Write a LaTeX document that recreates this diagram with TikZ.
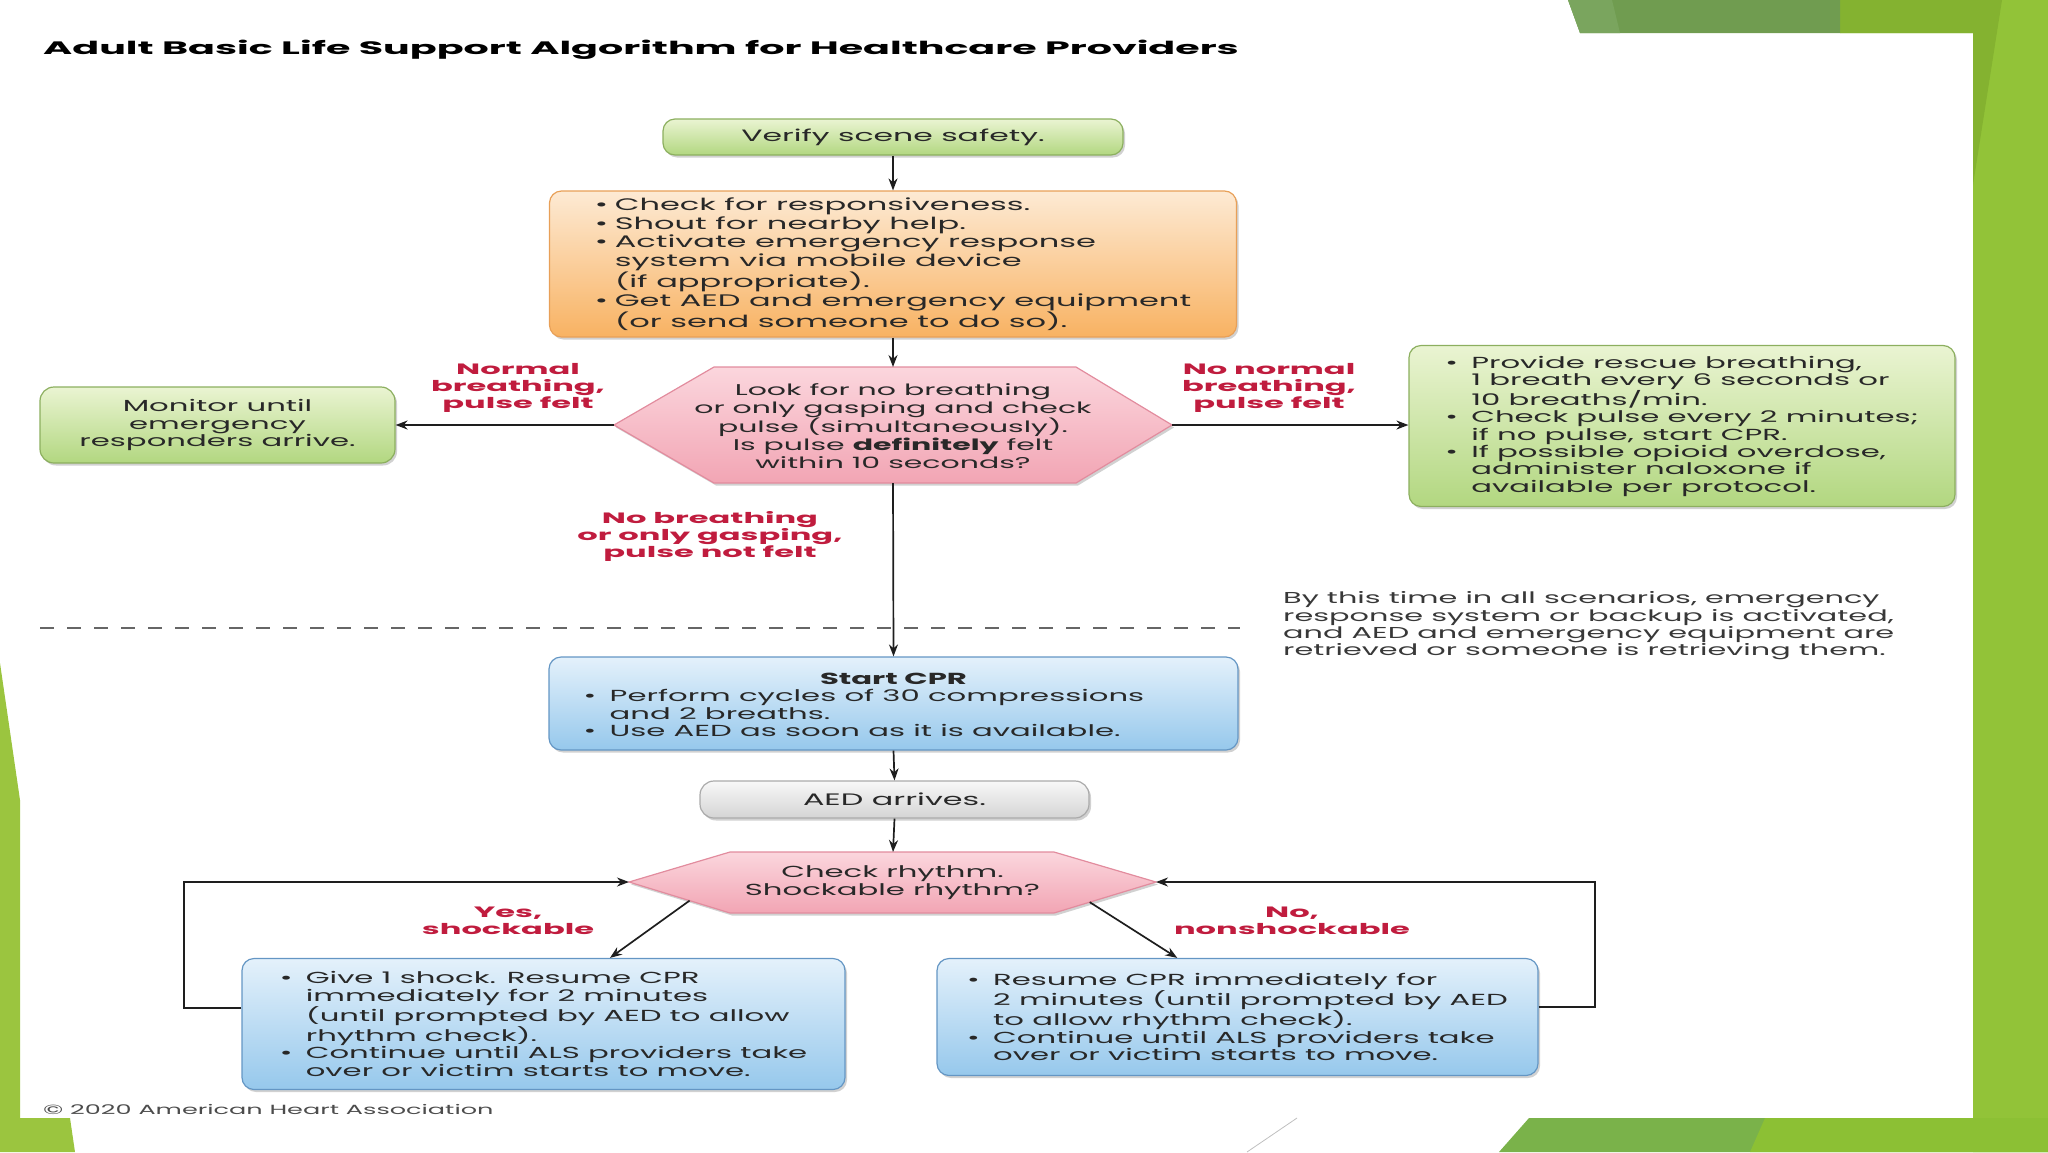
\documentclass[tikz,border=0pt]{standalone}
\usepackage{fontspec}
\setmainfont{Poppins}[FakeStretch=1.92]
\newfontfamily\titlefont{Poppins}[FakeStretch=2.2]
\newfontfamily\lblfont{Poppins}[FakeStretch=2.14]
\usetikzlibrary{arrows.meta,calc,shadows}
\definecolor{txt}{RGB}{40,40,40}
\definecolor{lblred}{RGB}{192,28,62}
\definecolor{arrc}{RGB}{30,30,30}
\definecolor{gtop}{RGB}{234,244,210}
\definecolor{gbot}{RGB}{178,215,128}
\definecolor{gbord}{RGB}{140,175,95}
\definecolor{otop}{RGB}{253,234,212}
\definecolor{obot}{RGB}{248,178,98}
\definecolor{obord}{RGB}{232,160,88}
\definecolor{ptop}{RGB}{251,214,221}
\definecolor{pbot}{RGB}{242,165,180}
\definecolor{pbord}{RGB}{226,140,158}
\definecolor{btop}{RGB}{228,241,251}
\definecolor{bbot}{RGB}{150,200,236}
\definecolor{bbord}{RGB}{100,150,196}
\definecolor{atop}{RGB}{248,248,248}
\definecolor{abot}{RGB}{212,212,212}
\definecolor{abord}{RGB}{170,170,170}
\definecolor{lgreen}{RGB}{155,197,63}
\definecolor{rgreen}{RGB}{146,195,56}
\definecolor{rgreenmd}{RGB}{132,178,48}
\definecolor{dgreen}{RGB}{112,156,80}
\definecolor{dgreenlt}{RGB}{122,165,94}
\definecolor{bgreen}{RGB}{122,178,74}
\definecolor{bgreenlt}{RGB}{140,192,52}
\newcommand{\bitem}{\makebox[26pt][l]{\textbullet}}
\newcommand{\bcont}{\hspace*{26pt}}
\newcommand{\oitem}{\makebox[20pt][l]{\textbullet}}
\newcommand{\ocont}{\hspace*{20pt}}
\tikzset{
  softshadow/.style={drop shadow={shadow xshift=2pt, shadow yshift=-2.5pt, opacity=0.18, fill=black}},
  box/.style={draw, rounded corners=12pt, line width=1.2pt, inner sep=0pt, text=txt,
    font=\fontsize{16}{17.3}\selectfont, softshadow},
  greenbox/.style={box, draw=gbord, top color=gtop, bottom color=gbot},
  orangebox/.style={box, draw=obord, top color=otop, bottom color=obot},
  bluebox/.style={box, draw=bbord, top color=btop, bottom color=bbot},
  graybox/.style={box, draw=abord, top color=atop, bottom color=abot},
  hexshape/.style={draw=pbord, line width=1.2pt, top color=ptop, bottom color=pbot, softshadow},
  hextext/.style={inner sep=0pt, text=txt, align=center, font=\fontsize{15.6}{17.6}\selectfont},
  lbl/.style={inner sep=0pt, text=lblred, align=center, font=\lblfont\bfseries\fontsize{15}{17}\selectfont},
  arr/.style={-{Stealth[length=12pt,width=9pt]}, line width=1.7pt, draw=arrc},
  loopline/.style={line width=1.8pt, draw=arrc, -{Stealth[length=12pt,width=9pt]}}
}
\begin{document}
\begin{tikzpicture}[x=1pt,y=-1pt]
\useasboundingbox (0,0) rectangle (2048,1152);
% ---- slide background decoration ----
\fill[lgreen] (0,663) -- (20,800) -- (20,1118) -- (70,1118) -- (75,1152) -- (0,1152) -- cycle;
\fill[rgreen] (1840,0) -- (2048,0) -- (2048,1152) -- (1973,1152) -- (1973,33) -- (1840,33) -- cycle;
\fill[rgreenmd] (1840,0) -- (2002,0) -- (1973,185) -- (1973,33) -- (1840,33) -- cycle;
\fill[dgreen] (1568,0) -- (1580,33) -- (1840,33) -- (1840,0) -- cycle;
\fill[dgreenlt] (1568,0) -- (1580,33) -- (1620,33) -- (1612,0) -- cycle;
\fill[bgreen] (1529,1118) -- (1499,1152) -- (2048,1152) -- (2048,1118) -- cycle;
\fill[bgreenlt] (1765,1118) -- (1750,1152) -- (2048,1152) -- (2048,1118) -- cycle;
\draw[black!25, line width=0.8pt] (1297,1118) -- (1247,1152);

% ---- title ----
\node[anchor=west, inner sep=0pt, font=\titlefont\bfseries\fontsize{18}{20}\selectfont, text=black] (title) at (43,50)
  {Adult Basic Life Support Algorithm for Healthcare Providers};

% ---- top part ----
\node[greenbox, minimum width=460pt, minimum height=36pt, align=center,
      font=\fontsize{16.4}{18}\selectfont] (verify) at (893,137)
  {Verify scene safety.};
\node[orangebox, minimum width=687pt, minimum height=146pt, align=left,
      font=\fontsize{16.7}{18.7}\selectfont] (check) at (893,264)
  {\oitem Check for responsiveness.\\
   \oitem Shout for nearby help.\\
   \oitem Activate emergency response\\
   \ocont system via mobile device\\
   \ocont (if appropriate).\\
   \oitem Get AED and emergency equipment\\
   \ocont (or send someone to do so).};

% hexagon 1
\coordinate (h1L) at (614,425);
\coordinate (h1R) at (1172,425);
\coordinate (h1T) at (893,367);
\coordinate (h1B) at (893,483);
\path[hexshape] (614,425) -- (714,367) -- (1076,367) -- (1172,425) -- (1076,483) -- (714,483) -- cycle;
\node[hextext] (look) at (893,426)
  {Look for no breathing\\ or only gasping and check\\ pulse (simultaneously).\\
   Is pulse \textbf{definitely} felt\\ within 10 seconds?};

\node[greenbox, minimum width=355pt, minimum height=76pt, align=center, rounded corners=14pt] (monitor) at (217.5,425)
  {Monitor until\\ emergency\\ responders arrive.};
\node[greenbox, minimum width=546pt, minimum height=161pt, align=left] (rescue) at (1682,426)
  {\bitem Provide rescue breathing,\\
   \bcont 1 breath every 6 seconds or\\
   \bcont 10 breaths/min.\\
   \bitem Check pulse every 2 minutes;\\
   \bcont if no pulse, start CPR.\\
   \bitem If possible opioid overdose,\\
   \bcont administer naloxone if\\
   \bcont available per protocol.};

\node[lbl] (lnormal) at (518,388) {Normal\\ breathing,\\ pulse felt};
\node[lbl] (lnonormal) at (1269,388) {No normal\\ breathing,\\ pulse felt};
\node[lbl] (lnobreath) at (710,536) {No breathing\\ or only gasping,\\ pulse not felt};

\draw[arr] (verify.south) -- (check.north);
\draw[arr] (check.south) -- (h1T);
\draw[arr] (h1L) -- (monitor.east |- h1L);
\draw[arr] (h1R) -- (rescue.west |- h1R);

% dashed separator and note
\coordinate (dashA) at (40,628);
\coordinate (dashB) at (1240,628);
\draw[black!60, line width=2pt, dash pattern=on 14pt off 13pt] (dashA) -- (dashB);
\node[anchor=west, inner sep=0pt, align=left, text=black!78, font=\fontsize{15.8}{17.3}\selectfont] (note) at (1283,626)
  {By this time in all scenarios, emergency\\
   response system or backup is activated,\\
   and AED and emergency equipment are\\
   retrieved or someone is retrieving them.};

% ---- CPR part ----
\node[bluebox, minimum width=689pt, minimum height=93pt, align=center] (cpr) at (893.5,703.5)
  {\rule{0pt}{19pt}\textbf{Start CPR}\\
   \begin{tabular}[t]{@{}l@{\hspace{59pt}}}
   \bitem Perform cycles of 30 compressions\\
   \bcont and 2 breaths.\\
   \bitem Use AED as soon as it is available.
   \end{tabular}};
\node[graybox, minimum width=389pt, minimum height=37pt, align=center, rounded corners=14pt,
      font=\fontsize{16.6}{18}\selectfont] (aed) at (894.5,799.5)
  {AED arrives.};

% hexagon 2
\coordinate (h2L) at (629,882);
\coordinate (h2R) at (1156,882);
\coordinate (h2T) at (893,852);
\coordinate (h2BL) at (730,913);
\coordinate (h2BR) at (1054,913);
\path[hexshape] (629,882) -- (730,852) -- (1054,852) -- (1156,882) -- (1054,913) -- (730,913) -- cycle;
\node[hextext, font=\fontsize{16}{18}\selectfont] (rhythm) at (892.5,883)
  {Check rhythm.\\ Shockable rhythm?};

\node[bluebox, minimum width=603pt, minimum height=131pt, align=left] (shock) at (543.5,1024)
  {\bitem Give 1 shock. Resume CPR\\
   \bcont immediately for 2 minutes\\
   \bcont (until prompted by AED to allow\\
   \bcont rhythm check).\\
   \bitem Continue until ALS providers take\\
   \bcont over or victim starts to move.};
\node[bluebox, minimum width=601pt, minimum height=117pt, align=left] (noshock) at (1237.5,1017)
  {\bitem Resume CPR immediately for\\
   \bcont 2 minutes (until prompted by AED\\
   \bcont to allow rhythm check).\\
   \bitem Continue until ALS providers take\\
   \bcont over or victim starts to move.};

\node[lbl] (lyes) at (508,921) {Yes,\\ shockable};
\node[lbl] (lno) at (1292,921) {No,\\ nonshockable};

\draw[arr] (h1B) -- (cpr.north);
\draw[arr] (cpr.south) -- (aed.north);
\draw[arr] (aed.south) -- (h2T);
\draw[arr] ($(h2L)!0.6!(h2BL)$) -- ($(shock.north west)!0.61!(shock.north east)$);
\draw[arr] ($(h2BR)!0.35!(h2R)$) -- ($(noshock.north west)!0.40!(noshock.north east)$);

\coordinate (lp) at (184,1008);
\coordinate (rp) at (1595,1007);
\draw[loopline] (shock.west |- lp) -- (lp) -- (lp |- h2L) -- (h2L);
\draw[loopline] (noshock.east |- rp) -- (rp) -- (rp |- h2R) -- (h2R);

\node[anchor=west, inner sep=0pt, text=black!70, font=\fontsize{13.3}{15}\selectfont] (copy) at (43,1109)
  {© 2020 American Heart Association};
\end{tikzpicture}
\end{document}
